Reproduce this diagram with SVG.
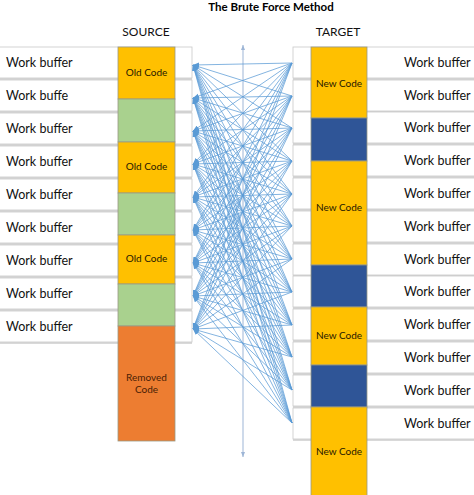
<svg xmlns="http://www.w3.org/2000/svg" width="474" height="495" viewBox="0 0 474 495">
<defs>
<style>
.row{fill:#ffffff;stroke:#c8c8c8;stroke-width:0.8}
.sh{fill:#d9d9d9}
.wb{font-family:Lato,"Open Sans","Liberation Sans",sans-serif;font-size:12.5px;fill:#111111}
.blk{stroke:#9a9a86;stroke-width:0.8}
.yel{fill:#ffc000}
.grn{fill:#a9d18e}
.org{fill:#ed7d31}
.blu{fill:#2f5597}
.lbl{font-family:Lato,"Open Sans","Liberation Sans",sans-serif;font-size:10px;fill:#1f1800;text-anchor:middle}
.hdr{font-family:Lato,"Open Sans","Liberation Sans",sans-serif;font-size:12px;fill:#111111;text-anchor:middle}
.cn line{stroke:#5b9bd5;stroke-width:0.75;marker-end:url(#ah)}
</style>
<marker id="ah" viewBox="0 0 10 10" refX="10" refY="5" markerWidth="6" markerHeight="6" markerUnits="userSpaceOnUse" orient="auto"><path d="M0,1 L10,5 L0,9 z" fill="#5b9bd5"/></marker>
<marker id="ax" viewBox="0 0 10 10" refX="10" refY="5" markerWidth="5" markerHeight="5" markerUnits="userSpaceOnUse" orient="auto"><path d="M0,1 L10,5 L0,9 z" fill="#9db5d6"/></marker>
</defs>
<rect width="474" height="495" fill="#ffffff"/>
<text x="271" y="11" font-family="Lato,'Open Sans','Liberation Sans',sans-serif" font-size="11.5" font-weight="bold" text-anchor="middle" fill="#000">The Brute Force Method</text>
<text class="hdr" x="146" y="36">SOURCE</text>
<text class="hdr" x="338" y="36">TARGET</text>

<g id="source-rows">
<g id="src-row-1"><rect class="sh" x="-1" y="49" width="193" height="31"/><rect class="row" x="-1" y="47" width="193" height="31"/><text class="wb" x="6" y="67">Work buffer</text></g>
<g id="src-row-2"><rect class="sh" x="-1" y="82" width="193" height="31"/><rect class="row" x="-1" y="80" width="193" height="31"/><text class="wb" x="6" y="100">Work buffe</text></g>
<g id="src-row-3"><rect class="sh" x="-1" y="115" width="193" height="31"/><rect class="row" x="-1" y="113" width="193" height="31"/><text class="wb" x="6" y="133">Work buffer</text></g>
<g id="src-row-4"><rect class="sh" x="-1" y="148" width="193" height="31"/><rect class="row" x="-1" y="146" width="193" height="31"/><text class="wb" x="6" y="166">Work buffer</text></g>
<g id="src-row-5"><rect class="sh" x="-1" y="181" width="193" height="31"/><rect class="row" x="-1" y="179" width="193" height="31"/><text class="wb" x="6" y="199">Work buffer</text></g>
<g id="src-row-6"><rect class="sh" x="-1" y="214" width="193" height="31"/><rect class="row" x="-1" y="212" width="193" height="31"/><text class="wb" x="6" y="232">Work buffer</text></g>
<g id="src-row-7"><rect class="sh" x="-1" y="247" width="193" height="31"/><rect class="row" x="-1" y="245" width="193" height="31"/><text class="wb" x="6" y="265">Work buffer</text></g>
<g id="src-row-8"><rect class="sh" x="-1" y="280" width="193" height="31"/><rect class="row" x="-1" y="278" width="193" height="31"/><text class="wb" x="6" y="298">Work buffer</text></g>
<g id="src-row-9"><rect class="sh" x="-1" y="313" width="193" height="31"/><rect class="row" x="-1" y="311" width="193" height="31"/><text class="wb" x="6" y="331">Work buffer</text></g>
</g>

<g id="source-blocks">
<g id="src-old-1"><rect class="blk yel" x="118" y="47" width="57" height="52"/><text class="lbl" x="146.5" y="76">Old Code</text></g>
<g id="src-free-1"><rect class="blk grn" x="118" y="99" width="57" height="43"/></g>
<g id="src-old-2"><rect class="blk yel" x="118" y="142" width="57" height="51"/><text class="lbl" x="146.5" y="170">Old Code</text></g>
<g id="src-free-2"><rect class="blk grn" x="118" y="193" width="57" height="42"/></g>
<g id="src-old-3"><rect class="blk yel" x="118" y="235" width="57" height="49"/><text class="lbl" x="146.5" y="262">Old Code</text></g>
<g id="src-free-3"><rect class="blk grn" x="118" y="284" width="57" height="42"/></g>
<g id="src-removed"><rect class="blk org" x="118" y="326" width="57" height="115"/><text class="lbl" x="146.5" y="381" style="fill:#4a1e05">Removed</text><text class="lbl" x="146.5" y="393" style="fill:#4a1e05">Code</text></g>
</g>

<g id="target-rows">
<g id="tgt-row-1"><rect class="sh" x="293" y="49" width="182" height="31"/><rect class="row" x="293" y="47" width="182" height="31"/><text class="wb" x="404" y="67">Work buffer</text></g>
<g id="tgt-row-2"><rect class="sh" x="293" y="82" width="182" height="31"/><rect class="row" x="293" y="80" width="182" height="31"/><text class="wb" x="404" y="100">Work buffer</text></g>
<g id="tgt-row-3"><rect class="sh" x="293" y="114" width="182" height="31"/><rect class="row" x="293" y="112" width="182" height="31"/><text class="wb" x="404" y="132">Work buffer</text></g>
<g id="tgt-row-4"><rect class="sh" x="293" y="147" width="182" height="31"/><rect class="row" x="293" y="145" width="182" height="31"/><text class="wb" x="404" y="165">Work buffer</text></g>
<g id="tgt-row-5"><rect class="sh" x="293" y="180" width="182" height="31"/><rect class="row" x="293" y="178" width="182" height="31"/><text class="wb" x="404" y="198">Work buffer</text></g>
<g id="tgt-row-6"><rect class="sh" x="293" y="213" width="182" height="31"/><rect class="row" x="293" y="211" width="182" height="31"/><text class="wb" x="404" y="231">Work buffer</text></g>
<g id="tgt-row-7"><rect class="sh" x="293" y="246" width="182" height="31"/><rect class="row" x="293" y="244" width="182" height="31"/><text class="wb" x="404" y="264">Work buffer</text></g>
<g id="tgt-row-8"><rect class="sh" x="293" y="278" width="182" height="31"/><rect class="row" x="293" y="276" width="182" height="31"/><text class="wb" x="404" y="296">Work buffer</text></g>
<g id="tgt-row-9"><rect class="sh" x="293" y="311" width="182" height="31"/><rect class="row" x="293" y="309" width="182" height="31"/><text class="wb" x="404" y="329">Work buffer</text></g>
<g id="tgt-row-10"><rect class="sh" x="293" y="344" width="182" height="31"/><rect class="row" x="293" y="342" width="182" height="31"/><text class="wb" x="404" y="362">Work buffer</text></g>
<g id="tgt-row-11"><rect class="sh" x="293" y="377" width="182" height="31"/><rect class="row" x="293" y="375" width="182" height="31"/><text class="wb" x="404" y="395">Work buffer</text></g>
<g id="tgt-row-12"><rect class="sh" x="293" y="410" width="182" height="31"/><rect class="row" x="293" y="408" width="182" height="31"/><text class="wb" x="404" y="428">Work buffer</text></g>
</g>

<g id="target-blocks">
<g id="tgt-new-1"><rect class="blk yel" x="311" y="47" width="56" height="71"/><text class="lbl" x="339" y="87">New Code</text></g>
<g id="tgt-free-1"><rect class="blk blu" x="311" y="118" width="56" height="43"/></g>
<g id="tgt-new-2"><rect class="blk yel" x="311" y="161" width="56" height="104"/><text class="lbl" x="339" y="211">New Code</text></g>
<g id="tgt-free-2"><rect class="blk blu" x="311" y="265" width="56" height="42"/></g>
<g id="tgt-new-3"><rect class="blk yel" x="311" y="307" width="56" height="58"/><text class="lbl" x="339" y="339">New Code</text></g>
<g id="tgt-free-3"><rect class="blk blu" x="311" y="365" width="56" height="42"/></g>
<g id="tgt-new-4"><rect class="blk yel" x="311" y="407" width="56" height="90"/><text class="lbl" x="339" y="455">New Code</text></g>
</g>

<g id="connectors">
<line id="axis" x1="243" y1="250" x2="243" y2="45" stroke="#9db5d6" stroke-width="1" marker-end="url(#ax)"/>
<line x1="243" y1="250" x2="243" y2="457" stroke="#9db5d6" stroke-width="1" marker-end="url(#ax)"/>
<g class="cn">
<line x1="292" y1="63" x2="193" y2="65"/><line x1="292" y1="96" x2="193" y2="65"/><line x1="292" y1="128" x2="193" y2="65"/><line x1="292" y1="161" x2="193" y2="65"/><line x1="292" y1="194" x2="193" y2="65"/><line x1="292" y1="226" x2="193" y2="65"/><line x1="292" y1="259" x2="193" y2="65"/><line x1="292" y1="292" x2="193" y2="65"/><line x1="292" y1="325" x2="193" y2="65"/><line x1="292" y1="357" x2="193" y2="65"/><line x1="292" y1="390" x2="193" y2="65"/><line x1="292" y1="423" x2="193" y2="65"/>
<line x1="292" y1="63" x2="193" y2="98"/><line x1="292" y1="96" x2="193" y2="98"/><line x1="292" y1="128" x2="193" y2="98"/><line x1="292" y1="161" x2="193" y2="98"/><line x1="292" y1="194" x2="193" y2="98"/><line x1="292" y1="226" x2="193" y2="98"/><line x1="292" y1="259" x2="193" y2="98"/><line x1="292" y1="292" x2="193" y2="98"/><line x1="292" y1="325" x2="193" y2="98"/><line x1="292" y1="357" x2="193" y2="98"/><line x1="292" y1="390" x2="193" y2="98"/><line x1="292" y1="423" x2="193" y2="98"/>
<line x1="292" y1="63" x2="193" y2="131"/><line x1="292" y1="96" x2="193" y2="131"/><line x1="292" y1="128" x2="193" y2="131"/><line x1="292" y1="161" x2="193" y2="131"/><line x1="292" y1="194" x2="193" y2="131"/><line x1="292" y1="226" x2="193" y2="131"/><line x1="292" y1="259" x2="193" y2="131"/><line x1="292" y1="292" x2="193" y2="131"/><line x1="292" y1="325" x2="193" y2="131"/><line x1="292" y1="357" x2="193" y2="131"/><line x1="292" y1="390" x2="193" y2="131"/><line x1="292" y1="423" x2="193" y2="131"/>
<line x1="292" y1="63" x2="193" y2="164"/><line x1="292" y1="96" x2="193" y2="164"/><line x1="292" y1="128" x2="193" y2="164"/><line x1="292" y1="161" x2="193" y2="164"/><line x1="292" y1="194" x2="193" y2="164"/><line x1="292" y1="226" x2="193" y2="164"/><line x1="292" y1="259" x2="193" y2="164"/><line x1="292" y1="292" x2="193" y2="164"/><line x1="292" y1="325" x2="193" y2="164"/><line x1="292" y1="357" x2="193" y2="164"/><line x1="292" y1="390" x2="193" y2="164"/><line x1="292" y1="423" x2="193" y2="164"/>
<line x1="292" y1="63" x2="193" y2="197"/><line x1="292" y1="96" x2="193" y2="197"/><line x1="292" y1="128" x2="193" y2="197"/><line x1="292" y1="161" x2="193" y2="197"/><line x1="292" y1="194" x2="193" y2="197"/><line x1="292" y1="226" x2="193" y2="197"/><line x1="292" y1="259" x2="193" y2="197"/><line x1="292" y1="292" x2="193" y2="197"/><line x1="292" y1="325" x2="193" y2="197"/><line x1="292" y1="357" x2="193" y2="197"/><line x1="292" y1="390" x2="193" y2="197"/><line x1="292" y1="423" x2="193" y2="197"/>
<line x1="292" y1="63" x2="193" y2="230"/><line x1="292" y1="96" x2="193" y2="230"/><line x1="292" y1="128" x2="193" y2="230"/><line x1="292" y1="161" x2="193" y2="230"/><line x1="292" y1="194" x2="193" y2="230"/><line x1="292" y1="226" x2="193" y2="230"/><line x1="292" y1="259" x2="193" y2="230"/><line x1="292" y1="292" x2="193" y2="230"/><line x1="292" y1="325" x2="193" y2="230"/><line x1="292" y1="357" x2="193" y2="230"/><line x1="292" y1="390" x2="193" y2="230"/><line x1="292" y1="423" x2="193" y2="230"/>
<line x1="292" y1="63" x2="193" y2="263"/><line x1="292" y1="96" x2="193" y2="263"/><line x1="292" y1="128" x2="193" y2="263"/><line x1="292" y1="161" x2="193" y2="263"/><line x1="292" y1="194" x2="193" y2="263"/><line x1="292" y1="226" x2="193" y2="263"/><line x1="292" y1="259" x2="193" y2="263"/><line x1="292" y1="292" x2="193" y2="263"/><line x1="292" y1="325" x2="193" y2="263"/><line x1="292" y1="357" x2="193" y2="263"/><line x1="292" y1="390" x2="193" y2="263"/><line x1="292" y1="423" x2="193" y2="263"/>
<line x1="292" y1="63" x2="193" y2="296"/><line x1="292" y1="96" x2="193" y2="296"/><line x1="292" y1="128" x2="193" y2="296"/><line x1="292" y1="161" x2="193" y2="296"/><line x1="292" y1="194" x2="193" y2="296"/><line x1="292" y1="226" x2="193" y2="296"/><line x1="292" y1="259" x2="193" y2="296"/><line x1="292" y1="292" x2="193" y2="296"/><line x1="292" y1="325" x2="193" y2="296"/><line x1="292" y1="357" x2="193" y2="296"/><line x1="292" y1="390" x2="193" y2="296"/><line x1="292" y1="423" x2="193" y2="296"/>
<line x1="292" y1="63" x2="193" y2="329"/><line x1="292" y1="96" x2="193" y2="329"/><line x1="292" y1="128" x2="193" y2="329"/><line x1="292" y1="161" x2="193" y2="329"/><line x1="292" y1="194" x2="193" y2="329"/><line x1="292" y1="226" x2="193" y2="329"/><line x1="292" y1="259" x2="193" y2="329"/><line x1="292" y1="292" x2="193" y2="329"/><line x1="292" y1="325" x2="193" y2="329"/><line x1="292" y1="357" x2="193" y2="329"/><line x1="292" y1="390" x2="193" y2="329"/><line x1="292" y1="423" x2="193" y2="329"/>
</g>
</g>
</svg>
